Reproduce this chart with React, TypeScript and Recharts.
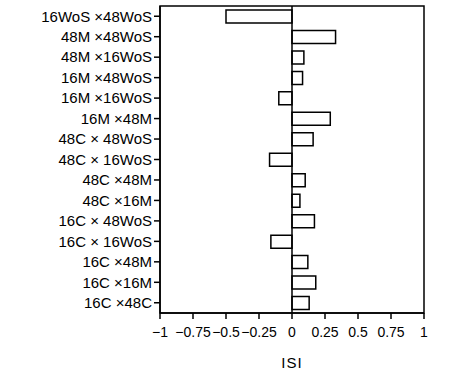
import { Bar, BarChart, ReferenceArea, ReferenceLine, XAxis, YAxis } from 'recharts';

const crosses = [
  '16WoS ×48WoS',
  '48M ×48WoS',
  '48M ×16WoS',
  '16M ×48WoS',
  '16M ×16WoS',
  '16M ×48M',
  '48C × 48WoS',
  '48C × 16WoS',
  '48C ×48M',
  '48C ×16M',
  '16C × 48WoS',
  '16C × 16WoS',
  '16C ×48M',
  '16C ×16M',
  '16C ×48C',
];

const isiValues = [-0.5, 0.33, 0.09, 0.08, -0.1, 0.29, 0.16, -0.17, 0.1, 0.06, 0.17, -0.16, 0.12, 0.18, 0.13];

const xTicks = [-1, -0.75, -0.5, -0.25, 0, 0.25, 0.5, 0.75, 1];

const data = crosses.map((cross, i) => ({ cross, isi: isiValues[i] }));

const font = '"Liberation Sans", Arial, sans-serif';

export default function App() {
  return (
    <div style={{ position: 'absolute', left: 0, top: 0, width: 474, height: 386, background: '#fff', fontFamily: font }}>
      <BarChart
        width={474}
        height={386}
        data={data}
        layout="vertical"
        margin={{ top: 6, right: 50, bottom: 0, left: 0 }}
      >
        <XAxis
          type="number"
          domain={[-1, 1]}
          ticks={xTicks}
          interval={0}
          height={73}
          stroke="#000"
          strokeWidth={1.5}
          tickSize={6}
          tickMargin={8}
          tick={{ fontSize: 14, fill: '#000' }}
          tickFormatter={(v: number) => String(v).replace('-', '\u2212')}
          label={{ value: 'ISI', position: 'insideBottom', offset: 18, fontSize: 15, fill: '#000', letterSpacing: 1 }}
        />
        <YAxis
          type="category"
          dataKey="cross"
          width={160}
          stroke="#000"
          strokeWidth={1.5}
          tickSize={6}
          interval={0}
          tick={{ fontSize: 15, fill: '#000' }}
        />
        <ReferenceArea x1={-1} x2={1} stroke="#000" strokeWidth={1.5} fill="none" />
        <ReferenceLine x={0} stroke="#000" strokeWidth={1.5} />
        <Bar dataKey="isi" fill="#fff" stroke="#000" strokeWidth={1.5} barSize={13} isAnimationActive={false} />
      </BarChart>
    </div>
  );
}
